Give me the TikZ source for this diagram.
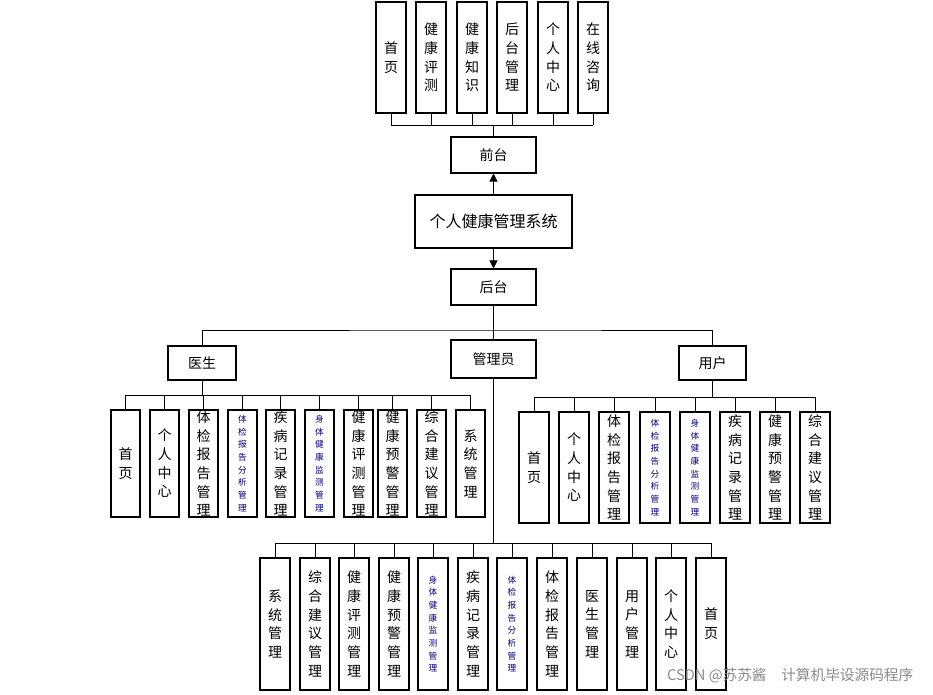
\documentclass[tikz,border=0pt]{standalone}
\usepackage{fontspec}
\setmainfont{Noto Sans CJK SC}
\usetikzlibrary{arrows.meta}
\tikzset{box/.style={draw,thick,inner sep=0pt,font=\fontsize{10.5}{14}\selectfont,align=center},
sbox/.style={box,font=\fontsize{6.5}{9.5}\selectfont,text=blue!50!black},
ln/.style={draw,line width=0.6pt}}
\newcommand\bx[7][box]{\node[#1,minimum width={(#5-#3)*0.75pt},minimum height={(#6-#4)*0.75pt}] (#2) at ({(#3+#5)/2},{(#4+#6)/2}) {#7};}
\newcommand\con[2]{\draw[ln] (#1.north) -- (#1.north |- 0,#2);}
\begin{document}
\begin{tikzpicture}[x=0.75pt,y=-0.75pt]
\useasboundingbox[fill=white] (0,0) rectangle (933,695);
% top
\bx{t1}{376}{2}{406}{113}{首\\页}
\bx{t2}{416}{2}{446}{113}{健\\康\\评\\测}
\bx{t3}{457}{2}{487}{113}{健\\康\\知\\识}
\bx{t4}{497}{2}{527}{113}{后\\台\\管\\理}
\bx{t5}{538}{2}{568}{113}{个\\人\\中\\心}
\bx{t6}{578}{2}{608}{113}{在\\线\\咨\\询}
\bx{qt}{451}{137}{536}{173}{前台}
\bx{sys}{415}{195}{572}{248}{\fontsize{12}{14}\selectfont 个人健康管理系统}
\bx{ht}{451}{269}{536}{305}{后台}
\foreach \n in {t1,t2,t3,t4,t5,t6} {\draw[ln] (\n.south) -- (\n.south |- 0,125);}
\draw[ln] (t1.south |- 0,125) -- (t6.south |- 0,125);
\draw[ln] (qt.south -| 0,125) ; 
\draw[ln] (qt.north) -- (qt.north |- 0,125);
\draw[ln,-{Triangle[length=6pt,width=6pt]}] (sys.north) -- (qt.south);
\draw[ln,-{Triangle[length=6pt,width=6pt]}] (sys.south) -- (ht.north);
% level 2
\bx{ys}{168}{346}{236}{380}{医生}
\bx{gl}{451}{340}{536}{378}{管理员}
\bx{yh}{679}{346}{746}{380}{用户}
\draw[ln] (ht.south) -- (gl.north);
\draw[ln] (ys.north) |- (ht.south |- 0,330) -| (yh.north);
% doctor children
\bx{d1}{111}{410}{140}{517}{首\\页}
\bx{d2}{150}{410}{179}{517}{个\\人\\中\\心}
\bx{d3}{189}{410}{218}{517}{体\\检\\报\\告\\管\\理}
\bx[sbox]{d4}{228}{410}{257}{517}{体\\检\\报\\告\\分\\析\\管\\理}
\bx{d5}{266}{410}{295}{517}{疾\\病\\记\\录\\管\\理}
\bx[sbox]{d6}{305}{410}{334}{517}{身\\体\\健\\康\\监\\测\\管\\理}
\bx{d7}{344}{410}{373}{517}{健\\康\\评\\测\\管\\理}
\bx{d8}{378}{410}{407}{517}{健\\康\\预\\警\\管\\理}
\bx{d9}{417}{410}{446}{517}{综\\合\\建\\议\\管\\理}
\bx{d10}{456}{410}{485}{517}{系\\统\\管\\理}
\foreach \n in {d1,d2,d3,d4,d5,d6,d7,d8,d9,d10} {\con{\n}{395}}
\draw[ln] (d1.north |- 0,395) -- (d10.north |- 0,395);
\draw[ln] (ys.south) -- (ys.south |- 0,395);
% user children
\bx{u1}{519}{412}{549}{523}{首\\页}
\bx{u2}{559}{412}{589}{523}{个\\人\\中\\心}
\bx{u3}{599}{412}{629}{523}{体\\检\\报\\告\\管\\理}
\bx[sbox]{u4}{640}{412}{670}{523}{体\\检\\报\\告\\分\\析\\管\\理}
\bx[sbox]{u5}{680}{412}{710}{523}{身\\体\\健\\康\\监\\测\\管\\理}
\bx{u6}{720}{412}{750}{523}{疾\\病\\记\\录\\管\\理}
\bx{u7}{760}{412}{790}{523}{健\\康\\预\\警\\管\\理}
\bx{u8}{800}{412}{830}{523}{综\\合\\建\\议\\管\\理}
\foreach \n in {u1,u2,u3,u4,u5,u6,u7,u8} {\con{\n}{397}}
\draw[ln] (u1.north |- 0,397) -- (u8.north |- 0,397);
\draw[ln] (yh.south) -- (yh.south |- 0,397);
% admin children
\bx{a1}{260}{558}{290}{690}{系\\统\\管\\理}
\bx{a2}{300}{558}{330}{690}{综\\合\\建\\议\\管\\理}
\bx{a3}{339}{558}{369}{690}{健\\康\\评\\测\\管\\理}
\bx{a4}{379}{558}{409}{690}{健\\康\\预\\警\\管\\理}
\bx[sbox]{a5}{418}{558}{448}{690}{身\\体\\健\\康\\监\\测\\管\\理}
\bx{a6}{458}{558}{488}{690}{疾\\病\\记\\录\\管\\理}
\bx[sbox]{a7}{497}{558}{527}{690}{体\\检\\报\\告\\分\\析\\管\\理}
\bx{a8}{537}{558}{567}{690}{体\\检\\报\\告\\管\\理}
\bx{a9}{577}{558}{607}{690}{医\\生\\管\\理}
\bx{a10}{617}{558}{647}{690}{用\\户\\管\\理}
\bx{a11}{656}{558}{686}{690}{个\\人\\中\\心}
\bx{a12}{696}{558}{726}{690}{首\\页}
\foreach \n in {a1,a2,a3,a4,a5,a6,a7,a8,a9,a10,a11,a12} {\con{\n}{543}}
\draw[ln] (a1.north |- 0,543) -- (a12.north |- 0,543);
\draw[ln] (gl.south) -- (gl.south |- 0,543);
\node[font=\fontsize{11}{13}\selectfont,text=black!45,anchor=east] (wm) at (918,676) {CSDN @苏苏酱\quad 计算机毕设源码程序};
\end{tikzpicture}
\end{document}
